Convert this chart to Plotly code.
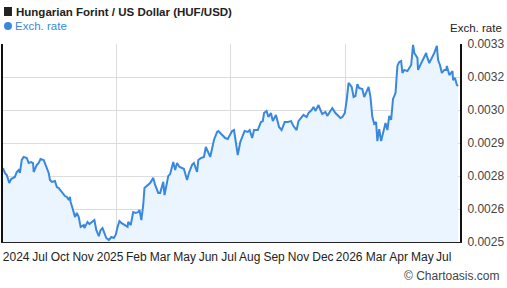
import pandas as pd
import plotly.graph_objects as go

# ---- data -------------------------------------------------------------
start_date = "2024-07-03"
end_date = "2026-07-03"

day_offsets = [0, 3, 6, 10, 13, 19, 22, 25, 27, 30, 33, 38, 41, 45, 48, 49, 54, 57, 60, 65,
               68, 73, 75, 78, 83, 86, 89, 94, 99, 102, 105, 107, 108, 111, 115, 118, 121, 124, 129, 130,
               135, 138, 143, 146, 149, 153, 156, 159, 162, 165, 169, 173, 177, 180, 183, 186, 189, 194, 199, 200,
               204, 208, 212, 216, 218, 221, 224, 226, 232, 235, 240, 243, 248, 251, 256, 258, 264, 267, 272, 275,
               278, 282, 286, 289, 294, 297, 302, 305, 310, 312, 316, 321, 324, 328, 331, 337, 342, 344, 347, 351,
               355, 359, 366, 369, 372, 375, 379, 383, 386, 391, 394, 398, 401, 407, 412, 415, 417, 421, 424, 428,
               431, 436, 441, 445, 450, 455, 460, 464, 469, 472, 477, 480, 485, 488, 493, 496, 499, 504, 507, 510,
               515, 518, 523, 526, 531, 536, 539, 542, 546, 549, 552, 557, 560, 563, 566, 569, 574, 577, 580, 584,
               587, 590, 593, 596, 598, 601, 604, 608, 611, 614, 617, 620, 623, 627, 630, 633, 636, 638, 641, 646,
               647, 652, 655, 657, 662, 663, 666, 671, 676, 677, 681, 685, 689, 693, 695, 698, 701, 705, 708, 709,
               713, 718, 719, 722, 725, 727]

rates = [0.002794, 0.002773, 0.002764, 0.002730, 0.002747, 0.002756, 0.002777, 0.002785, 0.002773, 0.002828,
         0.002841, 0.002836, 0.002815, 0.002819, 0.002815, 0.002777, 0.002807, 0.002815, 0.002832, 0.002828,
         0.002807, 0.002773, 0.002743, 0.002735, 0.002739, 0.002713, 0.002709, 0.002692, 0.002675, 0.002671,
         0.002658, 0.002671, 0.002650, 0.002624, 0.002586, 0.002603, 0.002586, 0.002544, 0.002552, 0.002539,
         0.002565, 0.002556, 0.002569, 0.002573, 0.002531, 0.002505, 0.002531, 0.002539, 0.002518, 0.002497,
         0.002488, 0.002501, 0.002497, 0.002510, 0.002544, 0.002569, 0.002561, 0.002552, 0.002544, 0.002565,
         0.002552, 0.002607, 0.002603, 0.002607, 0.002616, 0.002573, 0.002637, 0.002709, 0.002722, 0.002730,
         0.002752, 0.002722, 0.002688, 0.002688, 0.002735, 0.002679, 0.002760, 0.002768, 0.002819, 0.002785,
         0.002815, 0.002798, 0.002794, 0.002790, 0.002743, 0.002773, 0.002807, 0.002815, 0.002777, 0.002828,
         0.002836, 0.002841, 0.002883, 0.002858, 0.002841, 0.002913, 0.002947, 0.002951, 0.002942, 0.002934,
         0.002921, 0.002917, 0.002951, 0.002955, 0.002892, 0.002849, 0.002904, 0.002934, 0.002951, 0.002947,
         0.002955, 0.002921, 0.002955, 0.002955, 0.002989, 0.002993, 0.003027, 0.003036, 0.003010, 0.003027,
         0.002993, 0.003019, 0.002968, 0.002955, 0.002989, 0.002989, 0.002993, 0.002972, 0.002955, 0.002993,
         0.003010, 0.003019, 0.003010, 0.003027, 0.003040, 0.003053, 0.003036, 0.003061, 0.003040, 0.003023,
         0.003032, 0.003015, 0.003036, 0.003048, 0.003027, 0.003015, 0.003006, 0.003010, 0.003027, 0.003082,
         0.003155, 0.003138, 0.003095, 0.003099, 0.003150, 0.003133, 0.003129, 0.003095, 0.003112, 0.003138,
         0.003095, 0.003010, 0.002981, 0.002989, 0.002908, 0.002959, 0.002908, 0.002955, 0.002985, 0.002955,
         0.003015, 0.002998, 0.003087, 0.003112, 0.003227, 0.003244, 0.003248, 0.003197, 0.003210, 0.003205,
         0.003210, 0.003231, 0.003316, 0.003282, 0.003261, 0.003210, 0.003227, 0.003252, 0.003282, 0.003269,
         0.003239, 0.003261, 0.003282, 0.003312, 0.003252, 0.003231, 0.003197, 0.003210, 0.003210, 0.003227,
         0.003188, 0.003205, 0.003167, 0.003176, 0.003146, 0.003142]

x_tick_dates = ["2024-07-24", "2024-08-31", "2024-10-02", "2024-11-08", "2024-12-21", "2025-02-01",
                "2025-03-11", "2025-04-19", "2025-05-27", "2025-06-29", "2025-08-01", "2025-09-09",
                "2025-10-18", "2025-11-26", "2026-01-07", "2026-02-19", "2026-03-27", "2026-05-04",
                "2026-06-07"]
x_tick_labels = ["2024", "Jul", "Oct", "Nov", "2025", "Feb", "Mar", "May", "Jun", "Jul", "Aug",
                 "Sep", "Nov", "Dec", "2026", "Mar", "Apr", "May", "Jul"]
x_grid_dates = ["2025-01-01", "2025-07-01", "2026-01-01"]

y_tick_values = [0.00248, 0.00262, 0.00276, 0.00290, 0.00304, 0.00318, 0.00332]
y_tick_labels = ["0.0025", "0.0026", "0.0028", "0.0029", "0.0030", "0.0032", "0.0033"]

title_text = "Hungarian Forint / US Dollar (HUF/USD)"
series_name = "Exch. rate"
axis_title = "Exch. rate"
credit_text = "© Chartoasis.com"

# ---- figure -----------------------------------------------------------
dates = pd.Timestamp(start_date) + pd.to_timedelta(day_offsets, unit="D")

LINE = "#3a88de"
FILL = "#eaf5ff"
FONT = "Liberation Sans, Arial, sans-serif"

W, H = 507, 288
L, R, T, B = 1, 47, 44, 46
PW, PH = W - L - R, H - T - B


def px(x):
    return (x - L) / PW


def py(y):
    return (H - B - y) / PH


fig = go.Figure()
fig.add_trace(go.Scatter(
    x=dates, y=rates, mode="lines", name=series_name,
    line=dict(color=LINE, width=2),
    fill="tozeroy", fillcolor=FILL,
    hoverinfo="skip",
))

fig.update_layout(
    width=W, height=H,
    margin=dict(l=L, r=R, t=T, b=B, pad=0),
    paper_bgcolor="white", plot_bgcolor="white",
    showlegend=False,
    font=dict(family=FONT, size=12, color="#222"),
    xaxis=dict(
        type="date",
        range=[start_date, end_date],
        tickmode="array", tickvals=x_tick_dates, ticktext=x_tick_labels,
        showgrid=False, ticks="outside", ticklen=4, tickcolor="rgba(0,0,0,0)",
        tickfont=dict(size=12, color="#222"),
        showline=True, linecolor="#222", linewidth=1,
        minor=dict(tickvals=x_grid_dates, showgrid=True, gridcolor="#dcdcdc",
                   gridwidth=1, ticks=""),
        zeroline=False, fixedrange=True,
    ),
    yaxis=dict(
        side="right",
        range=[y_tick_values[0], y_tick_values[-1]],
        tickmode="array", tickvals=y_tick_values, ticktext=y_tick_labels,
        showgrid=True, gridcolor="#dcdcdc", gridwidth=1,
        ticks="outside", ticklen=3, tickcolor="rgba(0,0,0,0)",
        tickfont=dict(size=12, color="#444"),
        showline=True, linecolor="#111", linewidth=2, mirror=True,
        zeroline=False, fixedrange=True,
    ),
    shapes=[
        dict(type="rect", xref="paper", yref="paper",
             x0=px(2), x1=px(10), y0=py(16), y1=py(7),
             fillcolor="#222", line=dict(width=0)),
        dict(type="circle", xref="paper", yref="paper",
             x0=px(2), x1=px(10), y0=py(30), y1=py(22),
             fillcolor=LINE, line=dict(width=0)),
    ],
    annotations=[
        dict(text="<b>" + title_text + "</b>", xref="paper", yref="paper",
             x=px(12), y=py(12), xanchor="left", yanchor="middle",
             showarrow=False, font=dict(size=11.5, color="#222")),
        dict(text=series_name, xref="paper", yref="paper",
             x=px(11), y=py(26), xanchor="left", yanchor="middle",
             showarrow=False, font=dict(size=11.5, color=LINE)),
        dict(text=axis_title, xref="paper", yref="paper",
             x=px(504), y=py(28), xanchor="right", yanchor="middle",
             showarrow=False, font=dict(size=11.5, color="#222")),
        dict(text=credit_text, xref="paper", yref="paper",
             x=px(502), y=py(276), xanchor="right", yanchor="middle",
             showarrow=False, font=dict(size=12, color="#444")),
    ],
)

fig.write_html("out.html", config=dict(displayModeBar=False, staticPlot=True))
